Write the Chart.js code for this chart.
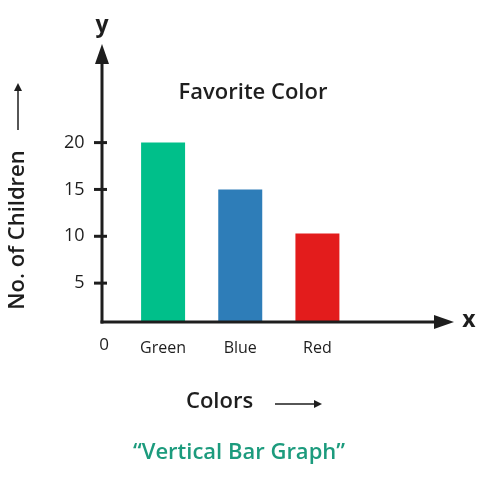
<!DOCTYPE html>
<html><head><meta charset="utf-8">
<script src="https://cdn.jsdelivr.net/npm/chart.js@4"></script>
<style>html,body{margin:0;padding:0;background:#fff}#c{display:block}</style>
</head><body>
<canvas id="c" width="499" height="477"></canvas>
<script>
const categories = ['Green', 'Blue', 'Red'];
const values = [20, 15, 10.3];
const barColors = ['#00bf8a', '#2e7db8', '#e31c1c'];
const yTicks = [5, 10, 15, 20];

const FONT = "'Open Sans', sans-serif";
const INK = '#1e1e1e';

const deco = {
  id: 'deco',
  afterDraw(chart) {
    const ctx = chart.ctx, y = chart.scales.y;
    const ax = 102, ay = y.bottom;
    ctx.save();
    ctx.strokeStyle = INK; ctx.fillStyle = INK; ctx.lineWidth = 3;
    ctx.beginPath(); ctx.moveTo(ax, ay + 1.5); ctx.lineTo(ax, 58); ctx.stroke();
    ctx.beginPath(); ctx.moveTo(ax, 44); ctx.lineTo(ax - 7, 64); ctx.lineTo(ax + 7, 64); ctx.closePath(); ctx.fill();
    ctx.beginPath(); ctx.moveTo(ax - 1.5, ay); ctx.lineTo(440, ay); ctx.stroke();
    ctx.beginPath(); ctx.moveTo(454, ay); ctx.lineTo(434, ay - 7); ctx.lineTo(434, ay + 7); ctx.closePath(); ctx.fill();
    yTicks.forEach(v => { const py = y.getPixelForValue(v); ctx.beginPath(); ctx.moveTo(94, py); ctx.lineTo(107, py); ctx.stroke(); });
    ctx.textBaseline = 'middle';
    ctx.textAlign = 'center';
    ctx.font = "bold 23px " + FONT; ctx.fillText('y', 102, 25);
    ctx.fillText('x', 469, 320);
    ctx.font = "17px " + FONT; ctx.fillText('0', 104, 345);
    ctx.font = "600 22px " + FONT; ctx.fillText('Favorite Color', 253, 93);
    ctx.textAlign = 'left'; ctx.fillText('Colors', 186, 402);
    ctx.lineWidth = 1.5;
    ctx.beginPath(); ctx.moveTo(275, 404); ctx.lineTo(320, 404); ctx.stroke();
    ctx.beginPath(); ctx.moveTo(322, 404); ctx.lineTo(314, 400); ctx.lineTo(314, 408); ctx.closePath(); ctx.fill();
    ctx.textAlign = 'center';
    ctx.fillStyle = '#1c9b7d'; ctx.font = "600 22px " + FONT;
    ctx.fillText('\u201CVertical Bar Graph\u201D', 239, 453);
    ctx.fillStyle = INK;
    ctx.translate(18, 200); ctx.rotate(-Math.PI / 2);
    ctx.font = "600 22px " + FONT; ctx.textAlign = 'center';
    ctx.fillText('No. of Children', -30, 0);
    ctx.beginPath(); ctx.moveTo(70, 0); ctx.lineTo(115, 0); ctx.stroke();
    ctx.beginPath(); ctx.moveTo(117, 0); ctx.lineTo(109, -4); ctx.lineTo(109, 4); ctx.closePath(); ctx.fill();
    ctx.restore();
  }
};

new Chart(document.getElementById('c'), {
  type: 'bar',
  data: { labels: categories, datasets: [{ data: values, backgroundColor: barColors, barPercentage: 0.57, categoryPercentage: 1 }] },
  options: {
    responsive: false, animation: false,
    layout: { padding: { top: 50, right: 143, left: 0, bottom: 0 } },
    plugins: { legend: { display: false }, tooltip: { enabled: false } },
    scales: {
      x: {
        offset: true,
        grid: { display: false, drawTicks: false }, border: { display: false },
        ticks: { color: INK, font: { family: FONT, size: 16 }, padding: 17 },
        afterFit(s) { s.height = 477 - 322; }
      },
      y: {
        min: 0.85, max: 29.8,
        grid: { display: false, drawTicks: false }, border: { display: false },
        afterBuildTicks(s) { s.ticks = yTicks.map(v => ({ value: v })); },
        ticks: { color: INK, font: { family: FONT, size: 18 }, padding: 40, callback: v => String(v) },
        afterFit(s) { s.width = 124.5; }
      }
    }
  },
  plugins: [deco]
});
</script>
</body></html>
